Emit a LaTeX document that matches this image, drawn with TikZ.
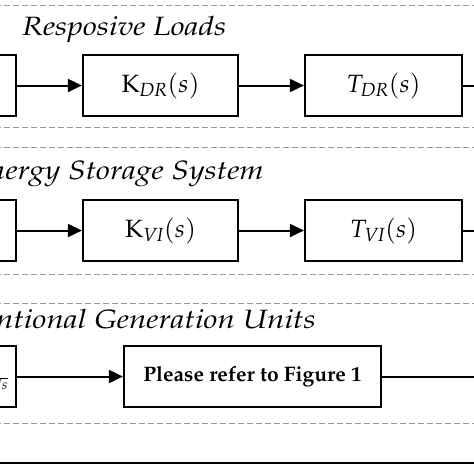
\documentclass[tikz,border=0pt]{standalone}
\usepackage[T1]{fontenc}
\usepackage{mathpazo}
\usetikzlibrary{arrows.meta}
\tikzset{
  blk/.style={draw=black, line width=2.2pt, fill=white, minimum height=61pt, inner sep=0pt},
  flow/.style={line width=2pt, -{Triangle[length=14pt,width=13pt]}},
  flowplain/.style={line width=2pt},
  sep/.style={draw=black!40, line width=1pt, dash pattern=on 5.5pt off 3.5pt},
  ttl/.style={font=\fontsize{26.5}{30}\selectfont\itshape, inner sep=0pt},
  lbl/.style={font=\fontsize{25}{28}\selectfont},
}
\newcommand{\wide}[1]{\scalebox{1.18}[1]{#1}}
\begin{document}
\begin{tikzpicture}[x=1pt,y=-1pt]
\useasboundingbox (0,0) rectangle (474,474);
\clip (0,0) rectangle (474,474);
% separators
\foreach \yy in {5,127,147,274,303,423} \draw[sep] (-5,\yy) -- (480,\yy);
\draw[line width=2.8pt] (-5,463) -- (480,463);
% titles
\node[ttl, anchor=base west] (t1) at (22,35) {\wide{Resposive Loads}};
\node[ttl, anchor=base east] (t2) at (264,179) {\wide{Energy Storage System}};
\node[ttl, anchor=base east] (t3) at (316,328) {\wide{Conventional Generation Units}};
% row 1
\node[blk, minimum width=60pt] (l1) at (-14,85.5) {};
\node[blk, minimum width=155pt, lbl] (kdr) at (160.5,85.5) {K$_{\mathit{DR}}(s)$};
\node[blk, minimum width=157pt, lbl] (tdr) at (383.5,85.5) {$T_{\mathit{DR}}(s)$};
\coordinate (e1) at (480,85.5);
\draw[flow] (l1.east) -- (kdr.west);
\draw[flow] (kdr.east) -- (tdr.west);
\draw[flowplain] (tdr.east) -- (e1);
% row 2
\node[blk, minimum width=60pt] (l2) at (-14,230.5) {};
\node[blk, minimum width=155pt, lbl] (kvi) at (160.5,230.5) {K$_{\mathit{VI}}(s)$};
\node[blk, minimum width=157pt, lbl] (tvi) at (383.5,230.5) {$T_{\mathit{VI}}(s)$};
\coordinate (e2) at (480,230.5);
\draw[flow] (l2.east) -- (kvi.west);
\draw[flow] (kvi.east) -- (tvi.west);
\draw[flowplain] (tvi.east) -- (e2);
% row 3
\node[blk, minimum width=60pt] (l3) at (-14,376.5) {};
\node[anchor=east, inner sep=0pt, font=\fontsize{18}{20}\selectfont] (frag) at (9,378) {$\frac{1}{2Hs}$};
\node[blk, minimum width=257pt, font=\fontsize{21}{24}\selectfont\bfseries] (ref) at (252.5,376.5) {Please refer to Figure 1};
\coordinate (e3) at (480,376.5);
\draw[flow] (l3.east) -- (ref.west);
\draw[flowplain] (ref.east) -- (e3);
\end{tikzpicture}
\end{document}
